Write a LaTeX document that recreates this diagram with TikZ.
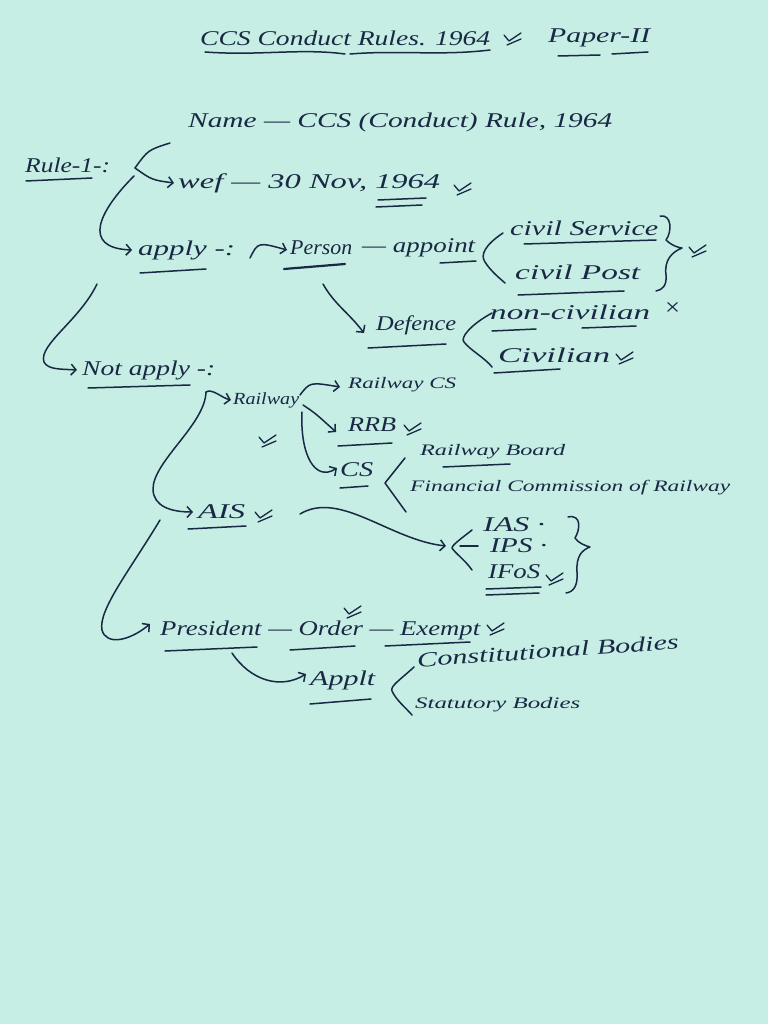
\documentclass[tikz,border=0pt]{standalone}
\usepackage{fontspec}
\setmainfont{Liberation Serif}
\usepackage{graphicx}
\usetikzlibrary{arrows.meta}
\definecolor{bgc}{RGB}{198,238,228}
\definecolor{ink}{RGB}{25,40,68}
\newcommand\hw[2]{\resizebox{#1pt}{\height}{#2}}
\tikzset{
  hand/.style={draw=ink,line width=1.5pt,line cap=round,line join=round},
  arr/.style={hand,-{Straight Barb[length=5pt,width=11pt,line width=1.5pt]}},
  txt/.style={anchor=west,inner sep=0pt,text=ink,font=\fontsize{21}{25}\selectfont\itshape},
  small/.style={txt,font=\fontsize{16}{19}\selectfont\itshape},
  tickmark/.pic={\draw[hand,line width=1.3pt] (-8,-3) -- (-3,3) -- (9,-5); \draw[hand,line width=1.3pt] (-5,7) -- (9,1);},
}
\begin{document}
\begin{tikzpicture}[x=1pt,y=-1pt]
\fill[bgc] (0,0) rectangle (768,1024);
\useasboundingbox (0,0) rectangle (768,1024);

% title
\node[txt] (title) at (200,38) {\hw{290}{CCS Conduct Rules. 1964}};
\draw[hand] (205,52) .. controls (260,56) and (300,48) .. (345,54);
\draw[hand] (350,54) .. controls (400,50) and (440,56) .. (490,50);
\pic at (512,38) {tickmark};
\node[txt] (paper) at (548,38) {\hw{102}{Paper-II}};
\draw[hand] (558,56) -- (600,55);
\draw[hand] (612,54) -- (648,52);

% Rule 1
\node[txt] (rule) at (25,165) {\hw{85}{Rule-1-:}};
\draw[hand] (26,181) -- (92,178);
\coordinate (rb) at (135,168);
\node[txt] (name) at (188,122) {\hw{424}{Name — CCS (Conduct) Rule, 1964}};
\node[txt] (wef) at (178,183) {\hw{262}{wef — 30 Nov, 1964}};
\draw[hand] (378,200) -- (426,198);
\draw[hand] (376,207) -- (422,205);
\pic at (462,188) {tickmark};
\draw[hand] (rb) .. controls (148,150) .. (170,143);
\draw[arr] (rb) .. controls (152,180) .. ([xshift=-4pt]wef.west);

% apply
\node[txt] (apply) at (138,250) {\hw{97}{apply -:}};
\draw[hand] (140,273) -- (206,269);
\draw[arr] (134,176) .. controls (100,210) and (80,248) .. ([xshift=-6pt]apply.west);
\node[txt] (person) at (290,248) {\hw{62}{Person}};
\draw[hand,line width=2.2pt] (284,269) -- (345,264);
\draw[arr] (250,258) .. controls (258,242) .. ([xshift=-3pt,yshift=-2pt]person.west);
\node[txt] (appoint) at (362,248) {\hw{113}{— appoint}};
\draw[hand] (440,263) -- (476,261);
\draw[hand] (503,233) .. controls (485,245) and (480,255) .. (485,262) .. controls (490,270) and (498,277) .. (505,283);
\node[txt] (civserv) at (510,228) {\hw{148}{civil Service}};
\draw[hand] (524,244) -- (656,240);
\node[txt] (civpost) at (515,272) {\hw{125}{civil Post}};
\draw[hand] (518,295) -- (624,291);
\draw[hand] (660,216) .. controls (672,214) and (672,232) .. (666,240) .. controls (672,246) and (680,248) .. (682,248)
  (682,248) .. controls (672,252) and (664,260) .. (666,275) .. controls (667,286) and (662,290) .. (656,291);
\pic at (697,250) {tickmark};

% Defence
\node[txt] (defence) at (376,325) {\hw{80}{Defence}};
\draw[hand] (368,348) -- (446,344);
\draw[arr] (323,284) .. controls (335,305) and (348,312) .. ([xshift=-12pt,yshift=-8pt]defence.west);
\draw[hand] (492,313) .. controls (470,325) and (460,338) .. (464,342) .. controls (470,350) and (485,358) .. (492,367);
\node[txt] (noncivil) at (490,312) {\hw{160}{non-civilian}};
\draw[hand] (492,331) -- (536,329);
\draw[hand] (582,328) -- (636,326);
\node[txt,font=\fontsize{21}{25}\selectfont] (cross) at (665,309) {\resizebox{15pt}{13pt}{×}};
\node[txt] (civilian) at (498,355) {\hw{112}{Civilian}};
\draw[hand] (494,373) -- (560,369);
\pic at (624,357) {tickmark};

% Not apply
\node[txt] (notapply) at (82,370) {\hw{133}{Not apply -:}};
\draw[hand] (88,388) -- (190,385);
\draw[arr] (97,284) .. controls (80,320) and (38,345) .. (44,362) .. controls (48,370) and (62,369) .. ([xshift=-5pt]notapply.west);

% Railway
\node[txt,font=\fontsize{17}{20}\selectfont\itshape] (railway) at (233,400) {\hw{66}{Railway}};
\coordinate (rs) at (206,392);
\draw[arr] (rs) .. controls (212,388) and (222,398) .. ([xshift=-2pt]railway.west);
\node[small] (railcs) at (348,385) {\hw{108}{Railway CS}};
\draw[arr] (300,395) .. controls (310,382) .. ([xshift=-8pt,yshift=-2pt]railcs.west);
\node[txt] (rrb) at (348,425) {\hw{48}{RRB}};
\draw[hand] (338,446) -- (392,443);
\pic at (412,428) {tickmark};
\draw[arr] (303,405) .. controls (315,413) .. ([xshift=-12pt,yshift=-7pt]rrb.west);
\pic at (267,440) {tickmark};
\node[txt] (cs) at (340,470) {\hw{33}{CS}};
\draw[hand] (340,488) -- (368,486);
\draw[arr] (302,412) .. controls (300,455) and (315,482) .. ([xshift=-3pt,yshift=2pt]cs.west);
\draw[hand] (405,458) -- (385,483) -- (406,512);
\node[small] (rboard) at (420,452) {\hw{145}{Railway Board}};
\draw[hand] (443,467) -- (510,464);
\node[small] (fincom) at (410,488) {\hw{320}{Financial Commission of Railway}};

% AIS
\node[txt] (ais) at (198,512) {\hw{47}{AIS}};
\draw[hand] (188,529) -- (246,526);
\pic at (263,515) {tickmark};
\draw[arr] (rs) .. controls (205,425) and (152,462) .. (153,490) .. controls (154,506) and (170,512) .. ([xshift=-5pt]ais.west);
\coordinate (aisgroup) at (446,546);
\draw[arr] (300,514) .. controls (340,490) and (390,540) .. (aisgroup);
\draw[hand] (472,530) .. controls (462,538) and (452,545) .. (452,548) .. controls (455,553) and (465,560) .. (472,570);
\draw[hand] (460,546) -- (478,546);
\node[txt] (ias) at (483,525) {\hw{62}{IAS ·}};
\node[txt] (ips) at (490,546) {\hw{57}{IPS ·}};
\node[txt] (ifos) at (488,572) {\hw{52}{IFoS}};
\draw[hand] (486,589) -- (541,587);
\draw[hand] (486,595) -- (539,593);
\pic at (554,578) {tickmark};
\draw[hand] (568,517) .. controls (582,514) and (580,530) .. (575,538) .. controls (578,543) and (586,546) .. (590,547)
  (590,547) .. controls (582,550) and (576,556) .. (577,572) .. controls (578,585) and (574,592) .. (566,593);

% President
\node[txt] (pres) at (160,630) {\hw{320}{President — Order — Exempt}};
\draw[hand] (165,651) -- (257,647);
\draw[hand] (290,650) -- (355,646);
\draw[hand] (385,646) -- (470,642);
\pic at (352,611) {tickmark};
\pic at (495,628) {tickmark};
\draw[arr] (160,520) .. controls (130,570) and (98,610) .. (102,630) .. controls (106,645) and (128,642) .. ([xshift=-10pt,yshift=6pt]pres.west);

% Applt
\node[txt] (applt) at (310,680) {\hw{65}{Applt}};
\draw[hand] (310,704) -- (371,699);
\draw[arr] (232,653) .. controls (250,680) and (280,690) .. ([xshift=-4pt,yshift=6pt]applt.west);
\draw[hand] (414,667) .. controls (400,680) and (390,686) .. (392,691) .. controls (396,700) and (406,708) .. (412,715);
\node[txt,rotate=4] (constb) at (417,660) {\hw{262}{Constitutional Bodies}};
\node[small] (statb) at (415,705) {\hw{165}{Statutory Bodies}};
\end{tikzpicture}
\end{document}
